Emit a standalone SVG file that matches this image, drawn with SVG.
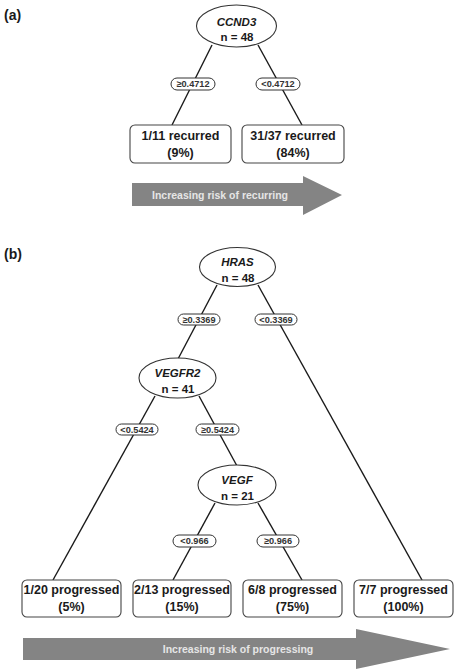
<svg xmlns="http://www.w3.org/2000/svg" width="457" height="672" viewBox="0 0 457 672">
<style>
.bg{fill:#fff}
.edge{stroke:#1a1a1a;stroke-width:1.4;fill:none}
.ell{fill:#fff;stroke:#333;stroke-width:1.1}
.box{fill:#fff;stroke:#444;stroke-width:1.1}
.pill{fill:#fff;stroke:#333;stroke-width:1}
.t{font-family:"Liberation Sans",Arial,sans-serif;font-weight:bold;fill:#1a1a1a;text-anchor:middle}
.gene{font-size:11.5px;font-style:italic}
.n{font-size:11.5px}
.bt{font-size:12.5px}
.pt{font-size:9.2px;fill:#333}
.arrow{fill:#848484}
.at{font-family:"Liberation Sans",Arial,sans-serif;font-weight:bold;font-size:10.5px;fill:#e6e6e6;text-anchor:middle}
.panel{font-family:"Liberation Sans",Arial,sans-serif;font-weight:bold;font-size:14px;fill:#1a1a1a}
</style>
<rect class="bg" width="457" height="672"/>
<text class="panel" x="4" y="20">(a)</text>
<text class="panel" x="4" y="259">(b)</text>
<g id="connectors">
<line class="edge" x1="212" y1="45" x2="172" y2="125"/>
<line class="edge" x1="258" y1="45" x2="302" y2="125"/>
<line class="edge" x1="217" y1="285" x2="178" y2="359"/>
<line class="edge" x1="258" y1="285" x2="422" y2="580"/>
<line class="edge" x1="155" y1="396" x2="53" y2="580"/>
<line class="edge" x1="199" y1="396" x2="237" y2="466"/>
<line class="edge" x1="215" y1="503" x2="173" y2="580"/>
<line class="edge" x1="258" y1="503" x2="302" y2="580"/>
</g>
<g id="edge-labels">
<g id="lbl-a1"><rect class="pill" x="171" y="78" width="44" height="12" rx="6"/><text class="t pt" x="193" y="87.3">≥0.4712</text></g>
<g id="lbl-a2"><rect class="pill" x="256" y="78" width="44" height="12" rx="6"/><text class="t pt" x="278" y="87.3">&lt;0.4712</text></g>
<g id="lbl-b1"><rect class="pill" x="178" y="314" width="42" height="11" rx="5.5"/><text class="t pt" x="199" y="322.8">≥0.3369</text></g>
<g id="lbl-b2"><rect class="pill" x="255" y="314" width="42" height="11" rx="5.5"/><text class="t pt" x="276" y="322.8">&lt;0.3369</text></g>
<g id="lbl-b3"><rect class="pill" x="116" y="424" width="42" height="11" rx="5.5"/><text class="t pt" x="137" y="432.8">&lt;0.5424</text></g>
<g id="lbl-b4"><rect class="pill" x="196" y="424" width="43" height="11" rx="5.5"/><text class="t pt" x="217.5" y="432.8">≥0.5424</text></g>
<g id="lbl-b5"><rect class="pill" x="173" y="535" width="43" height="12" rx="6"/><text class="t pt" x="194.5" y="544.3">&lt;0.966</text></g>
<g id="lbl-b6"><rect class="pill" x="257" y="535" width="42" height="12" rx="6"/><text class="t pt" x="278" y="544.3">≥0.966</text></g>
</g>
<g id="ccnd3"><ellipse class="ell" cx="236.5" cy="26" rx="40" ry="21"/><text class="t gene" x="236.5" y="25.5">CCND3</text><text class="t n" x="237" y="41">n = 48</text></g>
<g id="leaf-a1"><rect class="box" x="130" y="125" width="101" height="38" rx="5"/><text class="t bt" x="180.5" y="140">1/11 recurred</text><text class="t bt" x="180.5" y="157">(9%)</text></g>
<g id="leaf-a2"><rect class="box" x="242" y="125" width="102" height="38" rx="5"/><text class="t bt" x="293" y="140">31/37 recurred</text><text class="t bt" x="293" y="157">(84%)</text></g>
<g id="arrow-a"><polygon class="arrow" points="132,183 303,183 303,176 342,195 303,215 303,206 132,206"/><text class="at" x="220" y="199">Increasing risk of recurring</text></g>
<g id="hras"><ellipse class="ell" cx="237.5" cy="267" rx="38" ry="19.5"/><text class="t gene" x="237.5" y="266">HRAS</text><text class="t n" x="238" y="281.5">n = 48</text></g>
<g id="vegfr2"><ellipse class="ell" cx="177.5" cy="378" rx="38.5" ry="20"/><text class="t gene" x="177.5" y="377">VEGFR2</text><text class="t n" x="178" y="392.5">n = 41</text></g>
<g id="vegf"><ellipse class="ell" cx="237" cy="485" rx="39" ry="20"/><text class="t gene" x="237" y="484">VEGF</text><text class="t n" x="237.5" y="499.5">n = 21</text></g>
<g id="leaf-b1"><rect class="box" x="22" y="580" width="99" height="37" rx="5"/><text class="t bt" x="71.5" y="594">1/20 progressed</text><text class="t bt" x="71.5" y="611">(5%)</text></g>
<g id="leaf-b2"><rect class="box" x="133" y="580" width="98" height="37" rx="5"/><text class="t bt" x="182" y="594">2/13 progressed</text><text class="t bt" x="182" y="611">(15%)</text></g>
<g id="leaf-b3"><rect class="box" x="243" y="580" width="99" height="37" rx="5"/><text class="t bt" x="292.5" y="594">6/8 progressed</text><text class="t bt" x="292.5" y="611">(75%)</text></g>
<g id="leaf-b4"><rect class="box" x="354" y="580" width="99" height="37" rx="5"/><text class="t bt" x="403.5" y="594">7/7 progressed</text><text class="t bt" x="403.5" y="611">(100%)</text></g>
<g id="arrow-b"><polygon class="arrow" points="23,638 356,638 356,629 450,649 356,669 356,660 23,660"/><text class="at" x="238" y="653">Increasing risk of progressing</text></g>
</svg>
